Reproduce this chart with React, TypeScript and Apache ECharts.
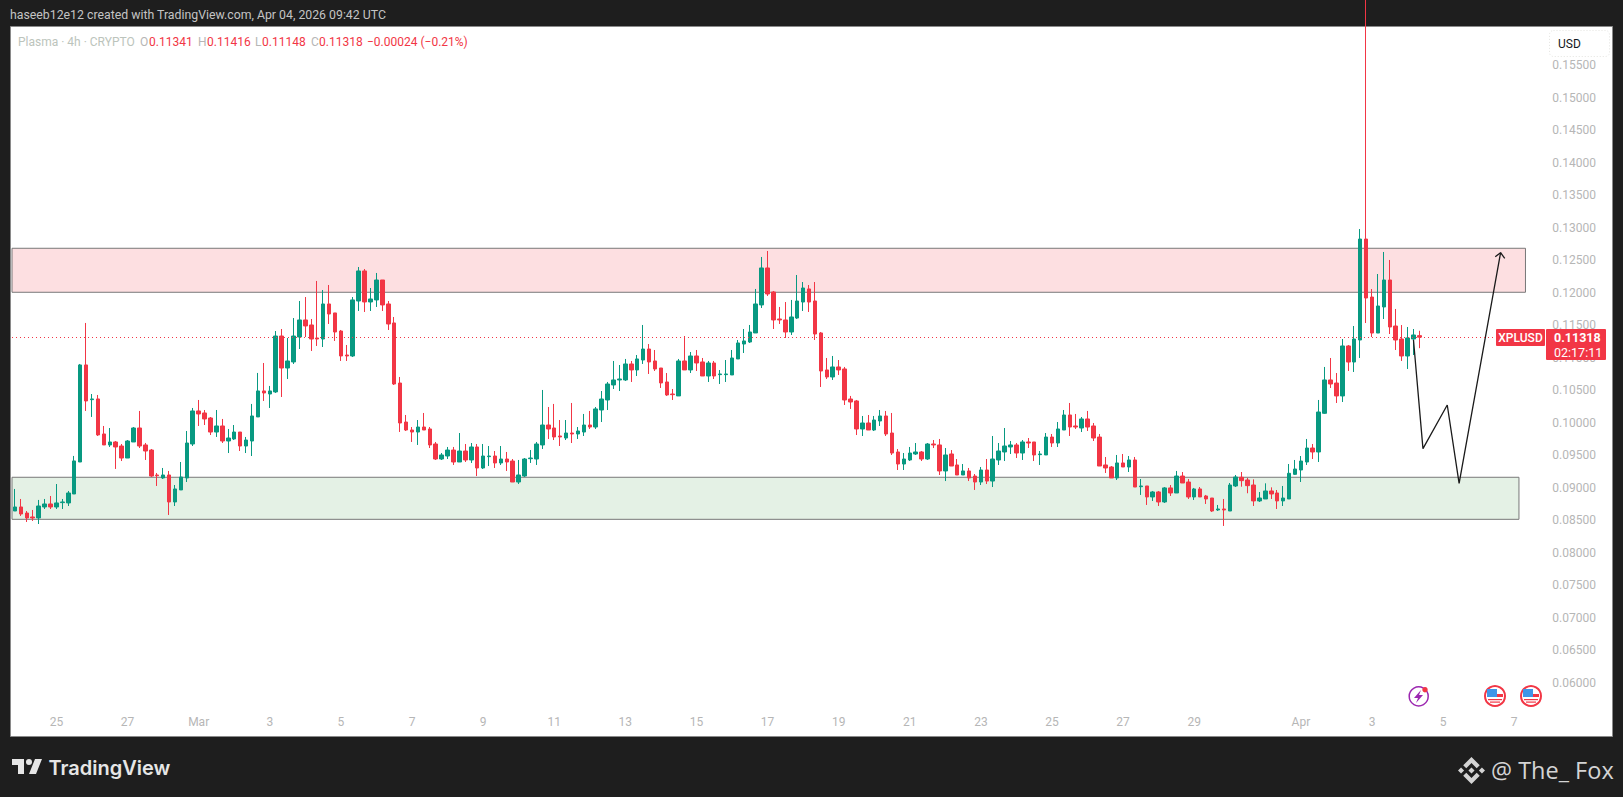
import React, { useEffect, useRef } from "react";
import * as echarts from "echarts";

// Rows are [open, close, high, low]; one candle every 4 hours, starting on Feb 23 20:00 UTC.
const candlesLateFeb: number[][] = [
  [0.08643,0.08705,0.08982,0.08643],[0.08705,0.08597,0.08828,0.08567],[0.08612,0.08536,0.08643,0.08474],[0.08551,0.08536,0.08659,0.08490],
  [0.08536,0.08720,0.08813,0.08443],[0.08705,0.08751,0.08828,0.08674],[0.08751,0.08705,0.08874,0.08674],[0.08705,0.08767,0.09058,0.08674],
  [0.08772,0.08782,0.08828,0.08674],[0.08767,0.08920,0.08951,0.08720],[0.08905,0.09413,0.09490,0.08905],[0.09397,0.10890,0.10905,0.09397],
  [0.10890,0.10336,0.11536,0.10182],[0.10356,0.10367,0.10443,0.10090],[0.10367,0.09813,0.10428,0.09797],[0.09828,0.09659,0.09951,0.09659],
  [0.09659,0.09705,0.09920,0.09628],[0.09705,0.09628,0.09720,0.09290],[0.09643,0.09458,0.09674,0.09412],[0.09458,0.09720,0.09735,0.09458],
  [0.09705,0.09920,0.09935,0.09705],[0.09920,0.09643,0.10182,0.09612],[0.09659,0.09566,0.09690,0.09428],[0.09581,0.09181,0.09597,0.09166],
  [0.09197,0.09186,0.09228,0.09028],[0.09151,0.09197,0.09305,0.09136],[0.09197,0.08782,0.09259,0.08582],[0.08782,0.08982,0.09043,0.08720],
  [0.08967,0.09166,0.09397,0.08967],[0.09151,0.09689,0.09874,0.09089],[0.09674,0.10182,0.10228,0.09643],
];
const candlesEarlyMar: number[][] = [
  [0.10182,0.10136,0.10351,0.09951],[0.10151,0.10059,0.10197,0.09966],[0.10074,0.09858,0.10089,0.09812],[0.09858,0.09951,0.10197,0.09782],
  [0.09951,0.09720,0.10059,0.09689],[0.09720,0.09766,0.09905,0.09535],[0.09751,0.09858,0.09966,0.09735],[0.09858,0.09643,0.09858,0.09566],
  [0.09643,0.09735,0.09782,0.09535],[0.09720,0.10105,0.10290,0.09489],[0.10090,0.10490,0.10767,0.10090],[0.10490,0.10459,0.10920,0.10336],
  [0.10443,0.10490,0.10567,0.10228],[0.10475,0.11335,0.11412,0.10459],[0.11335,0.10843,0.11443,0.10397],[0.10843,0.10951,0.11305,0.10674],
  [0.10936,0.11335,0.11612,0.10905],[0.11320,0.11582,0.11874,0.11135],[0.11582,0.11490,0.11935,0.11320],[0.11505,0.11289,0.11597,0.11105],
  [0.11305,0.11289,0.12182,0.11182],[0.11289,0.11828,0.12043,0.11166],[0.11828,0.11674,0.12120,0.11520],[0.11690,0.11397,0.11690,0.11259],
  [0.11412,0.11028,0.11428,0.10951],[0.11043,0.11028,0.11197,0.10951],[0.11028,0.11890,0.11935,0.11012],[0.11874,0.12336,0.12397,0.11720],
  [0.12336,0.11859,0.12366,0.11705],[0.11859,0.11905,0.12074,0.11720],[0.11890,0.12197,0.12305,0.11782],[0.12197,0.11813,0.12197,0.11720],
  [0.11828,0.11520,0.11874,0.11428],[0.11536,0.10597,0.11628,0.10582],[0.10612,0.09997,0.10705,0.09859],[0.10012,0.09889,0.10120,0.09874],
  [0.09889,0.09858,0.09935,0.09705],[0.09858,0.09935,0.10043,0.09659],[0.09935,0.09889,0.10151,0.09889],[0.09905,0.09659,0.09935,0.09612],
  [0.09674,0.09443,0.09705,0.09428],[0.09443,0.09505,0.09535,0.09428],[0.09489,0.09581,0.09628,0.09443],[0.09581,0.09397,0.09628,0.09351],
  [0.09397,0.09566,0.09843,0.09397],[0.09566,0.09428,0.09674,0.09397],[0.09428,0.09628,0.09689,0.09382],[0.09628,0.09305,0.09674,0.09181],
  [0.09305,0.09489,0.09674,0.09289],[0.09479,0.09489,0.09643,0.09335],[0.09489,0.09382,0.09566,0.09305],[0.09382,0.09443,0.09643,0.09351],
  [0.09443,0.09397,0.09551,0.09259],[0.09412,0.09089,0.09443,0.09089],[0.09089,0.09197,0.09428,0.09058],[0.09181,0.09443,0.09458,0.09166],
  [0.09448,0.09458,0.09581,0.09382],[0.09443,0.09674,0.09705,0.09351],[0.09659,0.09966,0.10505,0.09597],[0.09966,0.09905,0.10243,0.09751],
  [0.09920,0.09782,0.10290,0.09735],[0.09797,0.09782,0.10043,0.09643],[0.09766,0.09843,0.10043,0.09735],[0.09843,0.09828,0.10305,0.09689],
  [0.09828,0.09874,0.09935,0.09751],[0.09858,0.09966,0.10136,0.09797],[0.09966,0.09935,0.10182,0.09905],[0.09935,0.10213,0.10243,0.09905],
  [0.10197,0.10366,0.10489,0.10012],[0.10351,0.10597,0.10628,0.10197],[0.10582,0.10659,0.10951,0.10520],[0.10659,0.10674,0.10889,0.10489],
  [0.10659,0.10905,0.10982,0.10643],[0.10905,0.10813,0.10951,0.10628],[0.10813,0.10982,0.11043,0.10720],
];
const candlesMidMar: number[][] = [
  [0.10966,0.11135,0.11505,0.10905],[0.11135,0.10936,0.11212,0.10751],[0.10951,0.10828,0.11120,0.10797],[0.10843,0.10613,0.10843,0.10536],
  [0.10628,0.10428,0.10766,0.10413],[0.10443,0.10433,0.10520,0.10351],[0.10413,0.10951,0.10982,0.10413],[0.10951,0.10813,0.11335,0.10813],
  [0.10813,0.11028,0.11089,0.10766],[0.11028,0.10920,0.11120,0.10797],[0.10936,0.10720,0.10997,0.10720],[0.10720,0.10920,0.10951,0.10628],
  [0.10920,0.10720,0.10951,0.10674],[0.10741,0.10751,0.10812,0.10597],[0.10741,0.10751,0.10966,0.10628],[0.10736,0.10997,0.11120,0.10736],
  [0.10982,0.11228,0.11274,0.10982],[0.11212,0.11259,0.11443,0.11074],[0.11243,0.11397,0.11505,0.11228],[0.11382,0.11828,0.12059,0.11382],
  [0.11813,0.12382,0.12551,0.11766],[0.12382,0.11982,0.12643,0.11951],[0.12012,0.11582,0.12028,0.11443],[0.11597,0.11582,0.11782,0.11520],
  [0.11582,0.11397,0.11858,0.11305],[0.11397,0.11628,0.11890,0.11351],[0.11612,0.11874,0.12274,0.11597],[0.11858,0.12074,0.12166,0.11720],
  [0.12059,0.11858,0.12120,0.11705],[0.11874,0.11366,0.12166,0.11274],[0.11382,0.10797,0.11397,0.10551],[0.10813,0.10705,0.10997,0.10674],
  [0.10705,0.10859,0.11028,0.10659],[0.10859,0.10813,0.10966,0.10736],[0.10828,0.10351,0.10859,0.10274],[0.10366,0.10320,0.10413,0.10213],
  [0.10336,0.09905,0.10351,0.09812],[0.09905,0.09997,0.10105,0.09797],[0.09997,0.09889,0.10120,0.09889],[0.09889,0.10043,0.10105,0.09874],
  [0.10028,0.10105,0.10197,0.09951],[0.10105,0.09828,0.10182,0.09797],[0.09843,0.09535,0.10151,0.09505],[0.09551,0.09366,0.09597,0.09274],
  [0.09366,0.09443,0.09535,0.09274],[0.09428,0.09535,0.09628,0.09412],[0.09520,0.09551,0.09689,0.09505],[0.09551,0.09443,0.09566,0.09412],
  [0.09443,0.09674,0.09689,0.09428],[0.09674,0.09659,0.09735,0.09612],[0.09659,0.09259,0.09751,0.09197],[0.09259,0.09505,0.09612,0.09104],
  [0.09520,0.09335,0.09581,0.09335],[0.09351,0.09197,0.09443,0.09197],[0.09197,0.09259,0.09366,0.09197],[0.09259,0.09151,0.09305,0.09104],
];
const candlesLateMar: number[][] = [
  [0.09181,0.09089,0.09212,0.08967],[0.09089,0.09274,0.09320,0.09043],[0.09274,0.09104,0.09443,0.09058],[0.09104,0.09443,0.09797,0.09012],
  [0.09428,0.09566,0.09689,0.09351],[0.09551,0.09643,0.09920,0.09412],[0.09628,0.09659,0.09720,0.09520],[0.09659,0.09535,0.09689,0.09458],
  [0.09535,0.09705,0.09735,0.09428],[0.09705,0.09689,0.09766,0.09612],[0.09705,0.09505,0.09705,0.09412],[0.09510,0.09520,0.09566,0.09351],
  [0.09505,0.09781,0.09843,0.09505],[0.09781,0.09689,0.09828,0.09628],[0.09689,0.09905,0.10012,0.09628],[0.09889,0.10120,0.10197,0.09889],
  [0.10120,0.09935,0.10305,0.09797],[0.09951,0.09935,0.10136,0.09905],[0.09920,0.10059,0.10089,0.09858],[0.10059,0.09935,0.10182,0.09874],
  [0.09951,0.09766,0.09997,0.09720],[0.09781,0.09335,0.09828,0.09335],[0.09351,0.09305,0.09474,0.09228],[0.09320,0.09151,0.09335,0.09151],
  [0.09151,0.09382,0.09505,0.09120],[0.09382,0.09320,0.09520,0.09320],[0.09320,0.09428,0.09489,0.09243],[0.09428,0.09012,0.09474,0.09012],
  [0.09017,0.09028,0.09135,0.08890],[0.09028,0.08859,0.09028,0.08736],[0.08859,0.08936,0.08951,0.08797],[0.08936,0.08782,0.08951,0.08720],
  [0.08782,0.08998,0.09012,0.08767],[0.08998,0.08920,0.09043,0.08874],[0.08920,0.09181,0.09259,0.08920],[0.09181,0.09074,0.09243,0.09074],
  [0.09089,0.08859,0.09135,0.08828],[0.08859,0.08982,0.08998,0.08813],[0.08982,0.08859,0.09012,0.08859],[0.08874,0.08828,0.08890,0.08751],
  [0.08843,0.08643,0.08843,0.08628],[0.08659,0.08674,0.08736,0.08643],[0.08674,0.08659,0.08828,0.08413],[0.08643,0.09043,0.09074,0.08643],
  [0.09028,0.09166,0.09197,0.09012],[0.09162,0.09110,0.09243,0.09017],[0.09120,0.09033,0.09151,0.08916],[0.09043,0.08798,0.09130,0.08720],
  [0.08798,0.08843,0.08935,0.08782],[0.08828,0.08951,0.09069,0.08828],[0.08951,0.08905,0.09007,0.08828],[0.08920,0.08798,0.08966,0.08674],
  [0.08798,0.08843,0.09028,0.08720],[0.08828,0.09223,0.09366,0.08828],
];
const candlesApril: number[][] = [
  [0.09207,0.09289,0.09428,0.09197],[0.09274,0.09412,0.09489,0.09089],[0.09397,0.09612,0.09751,0.09351],[0.09612,0.09551,0.09674,0.09443],
  [0.09551,0.10166,0.10351,0.09397],[0.10146,0.10659,0.10859,0.10136],[0.10659,0.10597,0.10997,0.10536],[0.10612,0.10413,0.10766,0.10305],
  [0.10413,0.11182,0.11289,0.10320],[0.11182,0.10935,0.11197,0.10797],[0.10935,0.11289,0.11489,0.10782],[0.11274,0.12827,0.12981,0.10997],
  [0.12827,0.11920,0.16900,0.11535],[0.11935,0.11381,0.12058,0.11320],[0.11381,0.11797,0.12289,0.11381],[0.11782,0.12197,0.12628,0.11597],
  [0.12197,0.11474,0.12505,0.11366],[0.11489,0.11274,0.11751,0.11120],[0.11289,0.11028,0.11504,0.10951],[0.11028,0.11305,0.11474,0.10828],
  [0.11289,0.11351,0.11443,0.11043],[0.11341,0.11318,0.11416,0.11148],
];

const priceTicks = [0.06,0.065,0.07,0.075,0.08,0.085,0.09,0.095,0.1,0.105,0.11,0.115,0.12,0.125,0.13,0.135,0.14,0.145,0.15,0.155];
const timeTicks: [string, string][] = [
  ["02-25","25"],["02-27","27"],["03-01","Mar"],["03-03","3"],["03-05","5"],["03-07","7"],["03-09","9"],["03-11","11"],
  ["03-13","13"],["03-15","15"],["03-17","17"],["03-19","19"],["03-21","21"],["03-23","23"],["03-25","25"],["03-27","27"],
  ["03-29","29"],["04-01","Apr"],["04-03","3"],["04-05","5"],["04-07","7"],
];
const lastPrice = 0.11318;
const resistanceZone = [0.12685, 0.12008, 254.9];
const supportZone = [0.09162, 0.08515, 253.8];
// Hand-drawn projection: [bar position, price]
const projection: number[][] = [[236,0.11274],[237.6,0.09602],[241.7,0.10274],[243.7,0.09069],[250.7,0.12617]];
const arrowHead: number[][] = [[249.8,0.12556],[250.7,0.12617],[251.4,0.12530]];
const headerText = "haseeb12e12 created with TradingView.com, Apr 04, 2026 09:42 UTC";

const UP = "#089981";
const DOWN = "#f23645";
const FONT = "Roboto, sans-serif";
const BAR_SLOTS = 270;

const LOGO = "M14 6H2v6h6v9h6V6Zm12 15h-7l6-15h7l-6 15Zm-7-9a3 3 0 1 0 0-6 3 3 0 0 0 0 6Z";
const BINANCE = "M16.624 13.9202l2.7175 2.7154-7.353 7.353-7.353-7.352 2.7175-2.7164 4.6355 4.6595 4.6356-4.6595zm4.6366-4.6366L24 12l-2.7154 2.7164L18.5682 12l2.6924-2.7164zm-9.272.001l2.7163 2.6914-2.7164 2.7174v-.001L9.2721 12l2.7164-2.7154zm-9.2722-.001L5.4088 12l-2.6914 2.6924L0 12l2.7164-2.7164zM11.9885.0115l7.353 7.329-2.7174 2.7154-4.6356-4.6356-4.6355 4.6595-2.7174-2.7154 7.353-7.353z";

echarts.graphic.registerShape("tvLogoPath", echarts.graphic.extendPath(LOGO, {}) as any);
echarts.graphic.registerShape("binancePath", echarts.graphic.extendPath(BINANCE, {}) as any);

function text(x: number, y: number, t: string, fill: string, size: number, extra: any = {}) {
  return { type: "text", x, y, z: 100, style: { text: t, fill, fontSize: size, fontFamily: FONT, textVerticalAlign: "middle", ...extra } };
}

function flag(cx: number, cy: number) {
  return [
    { type: "circle", z: 100, shape: { cx, cy, r: 10 }, style: { fill: "#fff", stroke: DOWN, lineWidth: 2 } },
    { type: "rect", z: 101, shape: { x: cx - 8, y: cy - 7, width: 10, height: 8 }, style: { fill: "#3f96e8" } },
    { type: "rect", z: 101, shape: { x: cx + 2, y: cy - 2, width: 6, height: 3 }, style: { fill: DOWN } },
    { type: "rect", z: 101, shape: { x: cx - 7, y: cy + 3, width: 14, height: 1.2 }, style: { fill: DOWN } },
    { type: "rect", z: 101, shape: { x: cx - 5, y: cy + 5.5, width: 10, height: 1.2 }, style: { fill: DOWN } },
  ];
}

export default function App() {
  const ref = useRef<HTMLDivElement>(null);
  useEffect(() => {
    if (!ref.current) return;
    const chart = echarts.init(ref.current, undefined, { renderer: "svg" });

    const rows = [...candlesLateFeb, ...candlesEarlyMar, ...candlesMidMar, ...candlesLateMar, ...candlesApril];
    const ohlc = rows.map(([o, c, h, l]) => [o, c, l, h]);
    const start = Date.UTC(2026, 1, 23, 20);
    const categories: string[] = [];
    for (let i = 0; i < BAR_SLOTS; i++) categories.push(new Date(start + i * 4 * 3600e3).toISOString());
    const tickMap = new Map(timeTicks.map(([d, l]) => [`2026-${d}T00:00:00.000Z`, l]));
    const zoneArea = (z: number[], fill: string) => [
      { yAxis: z[0], xAxis: -0.5, itemStyle: { color: fill, borderColor: "#787878", borderWidth: 1 } },
      { yAxis: z[1], xAxis: z[2] },
    ];

    chart.setOption({
      animation: false,
      backgroundColor: "#1e1e1e",
      textStyle: { fontFamily: FONT },
      grid: { left: 12, top: 27, width: 1600, height: 709, containLabel: false },
      xAxis: [
        {
          type: "category",
          data: categories,
          axisLine: { show: false },
          axisTick: { show: false },
          splitLine: { show: false },
          axisLabel: {
            inside: true,
            margin: 8,
            color: "#b6b6b6",
            fontSize: 12,
            fontFamily: FONT,
            hideOverlap: false,
            interval: (_: number, v: string) => tickMap.has(v),
            formatter: (v: string) => tickMap.get(v) ?? "",
          },
        },
        { type: "value", show: false, min: -0.5, max: BAR_SLOTS - 0.5, splitLine: { show: false } },
      ],
      yAxis: {
        type: "value",
        position: "right",
        min: 0.051815,
        max: 0.160892,
        axisLine: { show: false },
        axisTick: { show: false },
        splitLine: { show: false },
        axisLabel: {
          inside: true,
          margin: 16,
          color: "#b6b6b6",
          fontSize: 12,
          fontFamily: FONT,
          customValues: priceTicks,
          formatter: (v: number) => v.toFixed(5),
        },
      },
      series: [
        {
          type: "line",
          name: "zones",
          xAxisIndex: 1,
          z: 1,
          silent: true,
          data: [],
          markArea: {
            silent: true,
            data: [zoneArea(resistanceZone, "#fddfe1"), zoneArea(supportZone, "#e4f1e5")],
          },
        },
        {
          type: "candlestick",
          name: "XPLUSD",
          z: 2,
          data: ohlc,
          barWidth: 4,
          clip: true,
          itemStyle: { color: UP, color0: DOWN, borderColor: UP, borderColor0: DOWN, borderWidth: 1 },
        },
        {
          type: "line",
          name: "price line",
          xAxisIndex: 1,
          z: 3,
          silent: true,
          data: [],
          markLine: {
            silent: true,
            symbol: "none",
            label: { show: false },
            lineStyle: { color: DOWN, type: [1, 3], width: 1 },
            data: [[{ xAxis: -0.5, yAxis: lastPrice }, { xAxis: 250, yAxis: lastPrice }]],
          },
        },
        {
          type: "line",
          name: "projection",
          xAxisIndex: 1,
          z: 4,
          silent: true,
          symbol: "none",
          data: projection,
          lineStyle: { color: "#1a1a1a", width: 1.3 },
        },
        {
          type: "line",
          name: "arrow",
          xAxisIndex: 1,
          z: 4,
          silent: true,
          symbol: "none",
          data: arrowHead,
          lineStyle: { color: "#1a1a1a", width: 1.3 },
        },
      ],
      graphic: {
        elements: [
          { type: "rect", z: -1, shape: { x: 10.5, y: 26.5, width: 1602, height: 710 }, style: { fill: "#ffffff", stroke: "#8a8a8a", lineWidth: 1 } },
          text(10, 15, headerText, "#c4c4c4", 12.3),
          text(18, 41.5, "Plasma · 4h · CRYPTO", "#bcc4bc", 12),
          text(140, 41.5, "O", "#b6b6b6", 12),
          text(149, 41.5, "0.11341", DOWN, 12),
          text(198, 41.5, "H", "#b6b6b6", 12),
          text(207, 41.5, "0.11416", DOWN, 12),
          text(255, 41.5, "L", "#b6b6b6", 12),
          text(262, 41.5, "0.11148", DOWN, 12),
          text(311, 41.5, "C", "#b6b6b6", 12),
          text(319, 41.5, "0.11318", DOWN, 12),
          text(367, 41.5, "−0.00024 (−0.21%)", DOWN, 12),
          { type: "rect", z: 100, shape: { x: 1549.5, y: 30.5, width: 60, height: 26, r: 4 }, style: { fill: "#fff", stroke: "#e4e4e0", lineWidth: 1, lineDash: [1, 2] } },
          text(1558, 44, "USD", "#131722", 12),
          { type: "rect", z: 100, shape: { x: 1496, y: 329, width: 49, height: 17, r: 1 }, style: { fill: DOWN } },
          text(1520.5, 338, "XPLUSD", "#fff", 12, { textAlign: "center", fontWeight: 500 }),
          { type: "rect", z: 100, shape: { x: 1546, y: 329, width: 60, height: 31, r: 1 }, style: { fill: DOWN } },
          text(1554, 337.5, "0.11318", "#fff", 12.5, { fontWeight: "bold" }),
          text(1554, 352, "02:17:11", "#fff", 12.5),
          { type: "circle", z: 100, shape: { cx: 1418.7, cy: 696.3, r: 9.5 }, style: { fill: "#fff", stroke: "#9c27b0", lineWidth: 1.5 } },
          { type: "polygon", z: 101, shape: { points: [[1421, 690], [1414, 698], [1418, 698], [1416, 703], [1423, 695], [1419, 695]] }, style: { fill: "#9c27b0" } },
          { type: "circle", z: 102, shape: { cx: 1425, cy: 689.7, r: 2.7 }, style: { fill: DOWN } },
          ...flag(1495, 696),
          ...flag(1531, 696),
          { type: "tvLogoPath", z: 100, x: 10, y: 753, style: { fill: "#e6e6e6" } },
          text(48.5, 768, "TradingView", "#e6e6e6", 20, { fontFamily: "Inter, sans-serif", fontWeight: 600 }),
          { type: "binancePath", z: 100, x: 1458, y: 757, scaleX: 1.125, scaleY: 1.125, style: { fill: "#d4d4d4" } },
          text(1491, 770, "@ The_ Fox", "#d4d4d4", 23.5, { fontFamily: "'Open Sans', sans-serif" }),
        ],
      },
    });
    return () => chart.dispose();
  }, []);
  return <div ref={ref} style={{ position: "fixed", left: 0, top: 0, width: 1623, height: 797 }} />;
}
